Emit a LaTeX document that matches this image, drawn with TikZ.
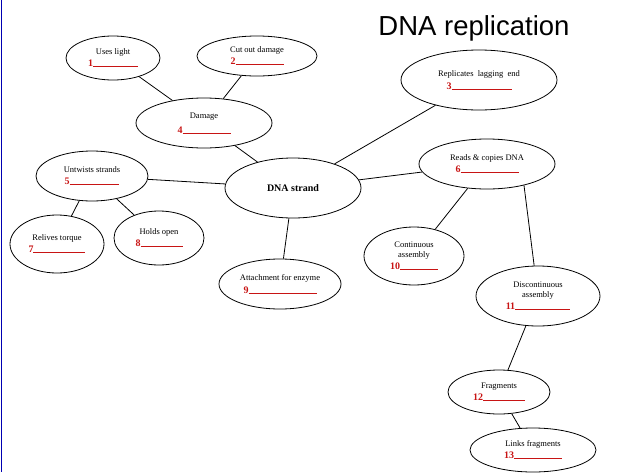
\documentclass[tikz,border=0pt]{standalone}
\usepackage{fontspec}
\setmainfont{Liberation Serif}
\newfontfamily\titlefont{Liberation Sans}
\usetikzlibrary{shapes.geometric}
\definecolor{numred}{RGB}{200,20,20}
\newcommand{\blankno}[2]{{\color{numred}\fontsize{10}{11}\selectfont\bfseries #1\rule{#2pt}{0.5pt}}}
\begin{document}
\begin{tikzpicture}[x=1pt,y=-1pt,
  el/.style={draw,ellipse,line width=0.8pt,minimum width=#1,inner sep=0pt,font=\fontsize{8.5}{10}\selectfont,align=center},
  ln/.style={line width=0.8pt}]
\useasboundingbox (0,0) rectangle (622,472);
\draw[blue!70!black,line width=0.6pt] (1,0) -- (1,472);
\node[font=\titlefont\fontsize{27.5}{30}\selectfont] (title) at (474,28) {DNA replication};
\node[el=94pt,minimum height=44pt] (uses) at (113,58) {Uses light\\[2pt]\blankno{1}{45}};
\node[el=120pt,minimum height=40pt] (cut) at (257,56) {Cut out damage\\[2pt]\blankno{2}{48}};
\node[el=156pt,minimum height=60pt] (rep) at (479,80) {Replicates\ \ lagging\ \ end\\[3pt]\blankno{3}{60}};
\node[el=136pt,minimum height=50pt] (dam) at (204,123) {Damage\\[5pt]\blankno{4}{48}};
\node[el=112pt,minimum height=50pt] (unt) at (92,176) {Untwists strands\\[2pt]\blankno{5}{50}};
\node[el=136pt,minimum height=60pt,font=\fontsize{10}{12}\selectfont\bfseries] (dna) at (293,188) {DNA strand};
\node[el=136pt,minimum height=50pt] (reads) at (487,164) {Reads \& copies DNA\\[2pt]\blankno{6}{58}};
\node[el=94pt,minimum height=58pt] (rel) at (57,244) {Relives torque\\[2pt]\blankno{7}{52}};
\node[el=90pt,minimum height=54pt] (hold) at (159,238) {Holds open\\[2pt]\blankno{8}{42}};
\node[el=122pt,minimum height=50pt] (att) at (280,284) {Attachment for enzyme\\[3pt]\blankno{9}{68}};
\node[el=100pt,minimum height=58pt] (cont) at (414,256) {Continuous\\assembly\\[2pt]\blankno{10}{38}};
\node[el=124pt,minimum height=60pt] (disc) at (538,296) {Discontinuous\\assembly\\[2pt]\blankno{11}{55}};
\node[el=102pt,minimum height=44pt] (frag) at (499,392) {Fragments\\[2pt]\blankno{12}{42}};
\node[el=126pt,minimum height=44pt] (link) at (533,450) {Links fragments\\[2pt]\blankno{13}{48}};
\draw[ln] (uses) -- (dam);
\draw[ln] (cut) -- (dam);
\draw[ln] (dam) -- (dna);
\draw[ln] (rep) -- (dna);
\draw[ln] (unt) -- (dna);
\draw[ln] (unt) -- (rel);
\draw[ln] (unt) -- (hold);
\draw[ln] (dna) -- (att);
\draw[ln] (dna) -- (reads);
\draw[ln] (reads) -- (cont);
\draw[ln] (reads.-30) -- (disc);
\draw[ln] (disc) -- (frag);
\draw[ln] (frag) -- (link);
\end{tikzpicture}
\end{document}
